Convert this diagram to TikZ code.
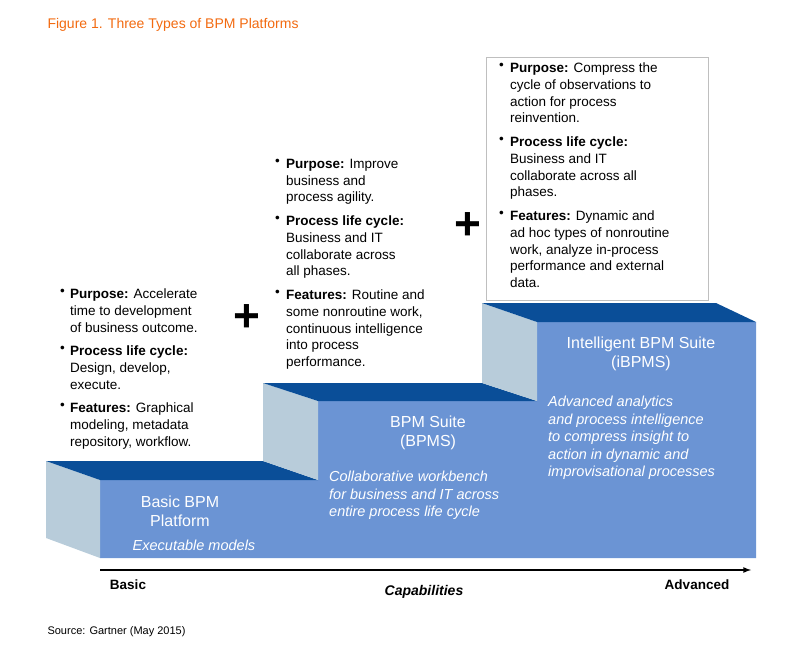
\documentclass[tikz,border=0pt]{standalone}
\usepackage{fontspec}
\setmainfont{Liberation Sans}
\begin{document}
\begin{tikzpicture}[x=1pt,y=-1pt,
  side/.style={fill=sideblue,draw=none},
  top/.style={fill=topblue,draw=none},
  bul/.style={anchor=north west,inner sep=0pt,align=left,font=\fontsize{13.5}{16.6}\selectfont},
  dot/.style={anchor=north west,inner sep=0pt,font=\fontsize{13.5}{16.6}\selectfont},
  steplab/.style={text=white,align=center,font=\fontsize{16}{19}\selectfont},
  stepit/.style={text=white,align=left,anchor=north west,inner sep=0pt,font=\fontsize{14.5}{17.5}\selectfont\itshape},
  plus/.style={font=\fontsize{46}{46}\selectfont\bfseries}]
\definecolor{sideblue}{HTML}{B8CCDA}
\definecolor{topblue}{HTML}{0A4E98}
\definecolor{frontblue}{HTML}{6B94D4}
\definecolor{orng}{HTML}{F26A10}
\useasboundingbox (0,0) rectangle (800,655);
\node[anchor=west,text=orng,font=\fontsize{14}{16}\selectfont] (title) at (44,25) {Figure 1. Three Types of BPM Platforms};
% steps
\fill[frontblue] (100,558) -- (100,480) -- (318,480) -- (318,401) -- (537,401) -- (537,322) -- (756,322) -- (756,558) -- cycle;
\fill[side] (46,461) -- (100,480) -- (100,558) -- (46,538) -- cycle;
\fill[top] (46,461) -- (263,461) -- (318,480) -- (100,480) -- cycle;
\fill[side] (263,383) -- (318,401) -- (318,480) -- (263,461) -- cycle;
\fill[top] (263,383) -- (482,383) -- (537,401) -- (318,401) -- cycle;
\fill[side] (482,303) -- (537,322) -- (537,401) -- (482,383) -- cycle;
\fill[top] (482,303) -- (716,303) -- (756,322) -- (537,322) -- cycle;
% step labels
\node[steplab] (s1) at (180,511) {Basic BPM\\Platform};
\node[stepit,anchor=center] (s1i) at (194,545) {Executable models};
\node[steplab] (s2) at (428,433) {BPM Suite\\(BPMS)};
\node[stepit] (s2i) at (329,471) {Collaborative workbench\\for business and IT across\\entire process life cycle};
\node[steplab] (s3) at (641,354) {Intelligent BPM Suite\\(iBPMS)};
\node[stepit] (s3i) at (548,396) {Advanced analytics\\and process intelligence\\to compress insight to\\action in dynamic and\\improvisational processes};
% axis
\coordinate (a0) at (100,570);
\coordinate (a1) at (751,570);
\draw[line width=1.6pt,-{latex}] (a0) -- (a1);
\node[font=\fontsize{13.5}{16}\selectfont\bfseries] (basic) at (128,585) {Basic};
\node[font=\fontsize{14}{16}\selectfont\bfseries\itshape] (cap) at (424,592) {Capabilities};
\node[font=\fontsize{13.5}{16}\selectfont\bfseries] (adv) at (697,585) {Advanced};
\node[anchor=west,font=\fontsize{11}{13}\selectfont] (src) at (44,632) {Source: Gartner (May 2015)};
% box 3
\draw[draw=black!25,fill=white] (486,57) rectangle (708,300);
% column 1
\node[dot] (d11) at (60,289) {•};
\node[bul] (c11) at (70,289) {\textbf{Purpose:} Accelerate\\time to development\\of business outcome.};
\node[dot] (d12) at (60,346) {•};
\node[bul] (c12) at (70,346) {\textbf{Process life cycle:}\\Design, develop,\\execute.};
\node[dot] (d13) at (60,403) {•};
\node[bul] (c13) at (70,403) {\textbf{Features:} Graphical\\modeling, metadata\\repository, workflow.};
% column 2
\node[dot] (d21) at (275,159) {•};
\node[bul] (c21) at (286,159) {\textbf{Purpose:} Improve\\business and\\process agility.};
\node[dot] (d22) at (275,216) {•};
\node[bul] (c22) at (286,216) {\textbf{Process life cycle:}\\Business and IT\\collaborate across\\all phases.};
\node[dot] (d23) at (275,290) {•};
\node[bul] (c23) at (286,290) {\textbf{Features:} Routine and\\some nonroutine work,\\continuous intelligence\\into process\\performance.};
% column 3
\node[dot] (d31) at (499,63) {•};
\node[bul] (c31) at (510,63) {\textbf{Purpose:} Compress the\\cycle of observations to\\action for process\\reinvention.};
\node[dot] (d32) at (499,137) {•};
\node[bul] (c32) at (510,137) {\textbf{Process life cycle:}\\Business and IT\\collaborate across all\\phases.};
\node[dot] (d33) at (499,211) {•};
\node[bul] (c33) at (510,211) {\textbf{Features:} Dynamic and\\ad hoc types of nonroutine\\work, analyze in-process\\performance and external\\data.};
% plus
\node[plus] (p1) at (247,318) {+};
\node[plus] (p2) at (468,226) {+};
\end{tikzpicture}
\end{document}
